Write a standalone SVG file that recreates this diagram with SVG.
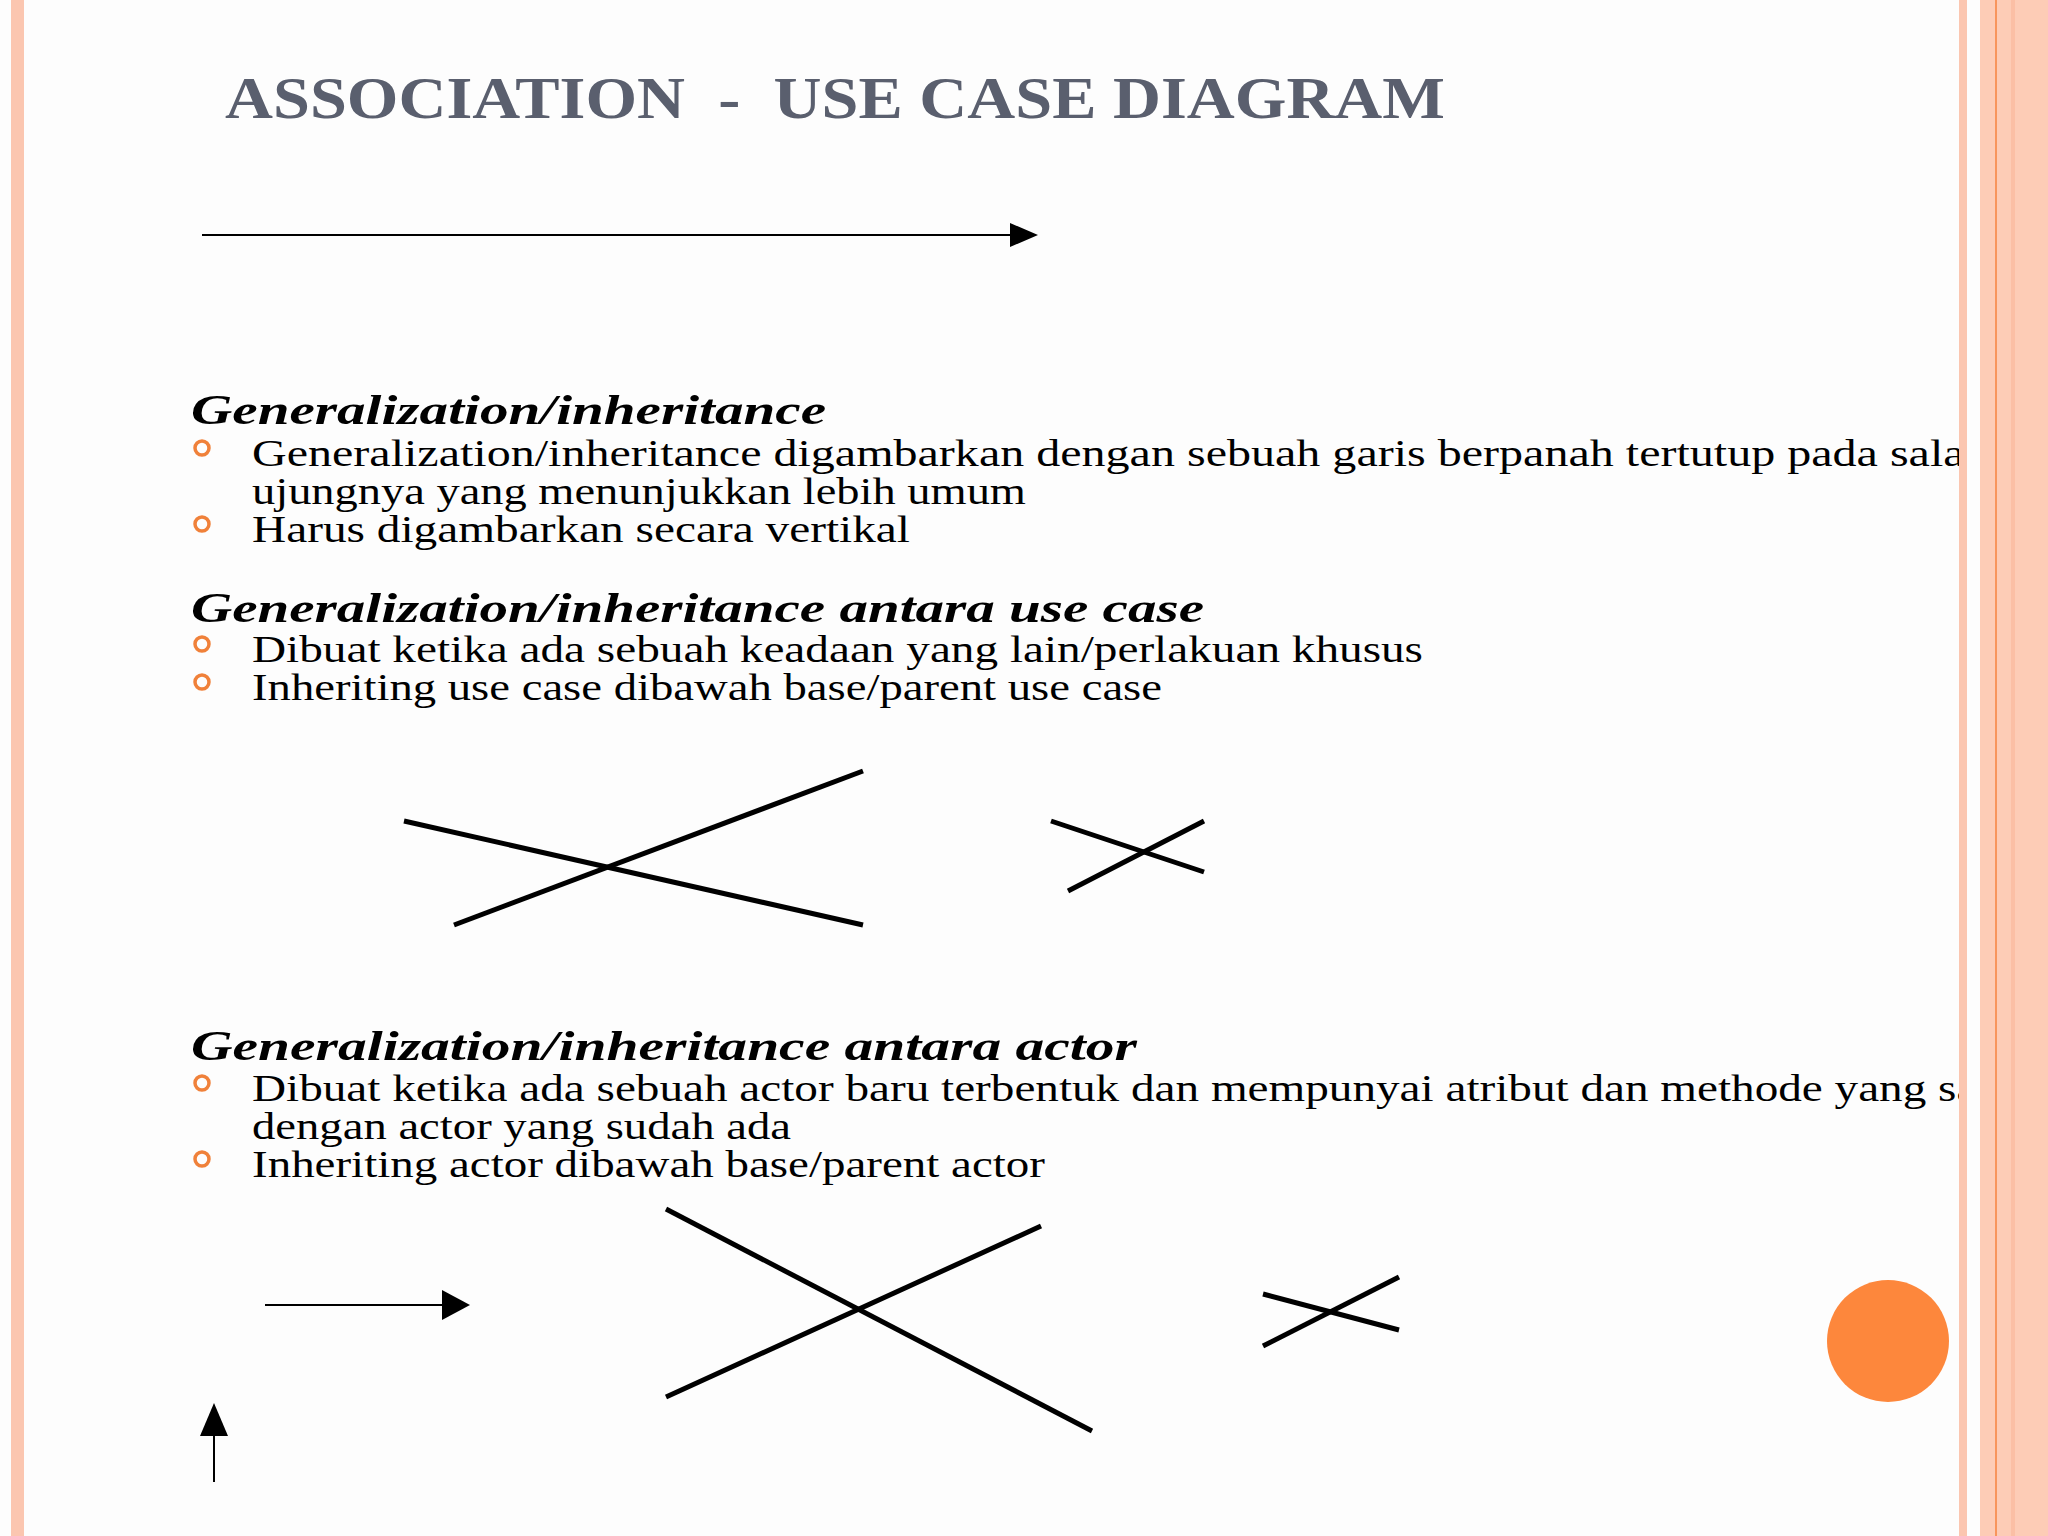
<svg xmlns="http://www.w3.org/2000/svg" width="2048" height="1536" viewBox="0 0 2048 1536">
<style>
.t{font-family:"Liberation Serif",serif;font-size:60px;font-weight:bold;fill:#5a5f6e}
.h{font-family:"Liberation Serif",serif;font-size:42px;font-weight:bold;font-style:italic;fill:#000}
.b{font-family:"Liberation Serif",serif;font-size:37px;fill:#000}
.bul{fill:none;stroke:#f0813a;stroke-width:3.5}
.x{stroke:#000;stroke-width:5;stroke-linecap:butt}
.a{stroke:#000;stroke-width:2}
</style>
<rect width="2048" height="1536" fill="#fdfdfd"/>
<rect x="11" y="0" width="13" height="1536" fill="#fbc6b0"/>
<text class="t" x="225" y="118" textLength="1220" lengthAdjust="spacingAndGlyphs" xml:space="preserve">ASSOCIATION  -  USE CASE DIAGRAM</text>
<g id="arrow-top"><line class="a" x1="202" y1="235" x2="1012" y2="235"/><polygon points="1010,223 1038,235 1010,247"/></g>
<g id="sec1">
<text class="h" x="191" y="424" textLength="635" lengthAdjust="spacingAndGlyphs">Generalization/inheritance</text>
<circle class="bul" cx="202" cy="448" r="7"/>
<text class="b" x="252" y="466" textLength="1826" lengthAdjust="spacingAndGlyphs">Generalization/inheritance digambarkan dengan sebuah garis berpanah tertutup pada salah satu</text>
<text class="b" x="252" y="504" textLength="774" lengthAdjust="spacingAndGlyphs">ujungnya yang menunjukkan lebih umum</text>
<circle class="bul" cx="202" cy="524" r="7"/>
<text class="b" x="252" y="542" textLength="658" lengthAdjust="spacingAndGlyphs">Harus digambarkan secara vertikal</text>
</g>
<g id="sec2">
<text class="h" x="191" y="622" textLength="1013" lengthAdjust="spacingAndGlyphs">Generalization/inheritance antara use case</text>
<circle class="bul" cx="202" cy="644" r="7"/>
<text class="b" x="252" y="662" textLength="1171" lengthAdjust="spacingAndGlyphs">Dibuat ketika ada sebuah keadaan yang lain/perlakuan khusus</text>
<circle class="bul" cx="202" cy="682" r="7"/>
<text class="b" x="252" y="700" textLength="910" lengthAdjust="spacingAndGlyphs">Inheriting use case dibawah base/parent use case</text>
</g>
<g id="sec3">
<text class="h" x="191" y="1060" textLength="946" lengthAdjust="spacingAndGlyphs">Generalization/inheritance antara actor</text>
<circle class="bul" cx="202" cy="1083" r="7"/>
<text class="b" x="252" y="1101" textLength="1783" lengthAdjust="spacingAndGlyphs">Dibuat ketika ada sebuah actor baru terbentuk dan mempunyai atribut dan methode yang sama</text>
<text class="b" x="252" y="1139" textLength="539" lengthAdjust="spacingAndGlyphs">dengan actor yang sudah ada</text>
<circle class="bul" cx="202" cy="1159" r="7"/>
<text class="b" x="252" y="1177" textLength="793" lengthAdjust="spacingAndGlyphs">Inheriting actor dibawah base/parent actor</text>
</g>
<g id="connectors">
<line class="x" x1="404" y1="821" x2="863" y2="925"/>
<line class="x" x1="454" y1="925" x2="863" y2="771"/>
<line class="x" x1="1051" y1="821" x2="1204" y2="872"/>
<line class="x" x1="1068" y1="891" x2="1204" y2="821"/>
<line class="x" x1="666" y1="1209" x2="1092" y2="1431"/>
<line class="x" x1="666" y1="1397" x2="1041" y2="1226"/>
<line class="x" x1="1263" y1="1294" x2="1399" y2="1330"/>
<line class="x" x1="1263" y1="1346" x2="1399" y2="1277"/>
<line class="a" x1="265" y1="1305" x2="444" y2="1305"/><polygon points="442,1290 470,1305 442,1320"/>
<line class="a" x1="214" y1="1482" x2="214" y2="1434"/><polygon points="200,1436 214,1403 228,1436"/>
</g>
<circle id="dot" cx="1888" cy="1341" r="61" fill="#fd873c"/>
<rect x="1959" y="0" width="8" height="1536" fill="#fbc6b0"/>
<rect x="1967" y="0" width="13" height="1536" fill="#fdfdfd"/>
<rect x="1980" y="0" width="68" height="1536" fill="#fdccb6"/>
<rect x="1995" y="0" width="2" height="1536" fill="#f8955c"/>
<rect x="2011" y="0" width="4" height="1536" fill="#fbbfa5"/>
</svg>
